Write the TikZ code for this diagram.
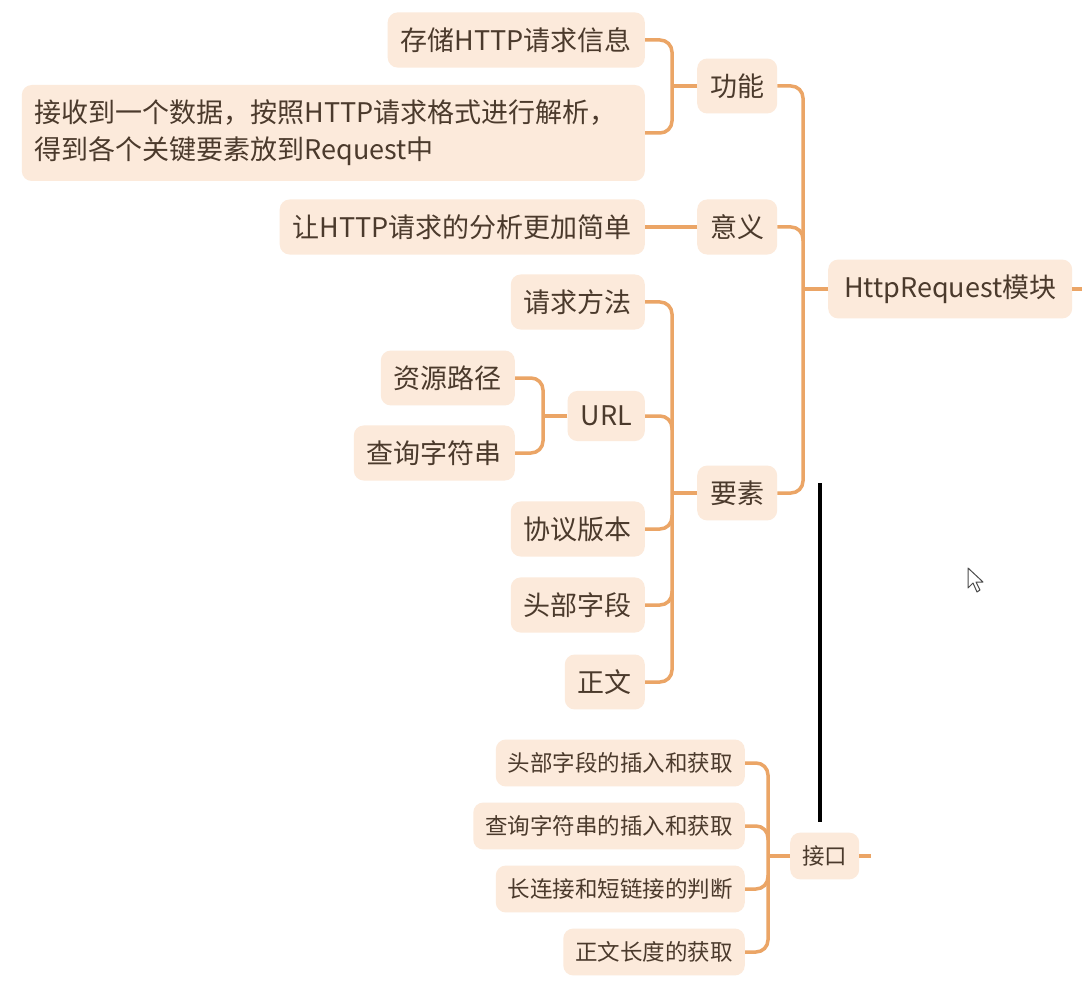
\documentclass[tikz,border=0pt]{standalone}
\usepackage{fontspec}
\setmainfont{Noto Sans CJK SC}
\usetikzlibrary{calc}

\definecolor{boxfill}{HTML}{FCEADB}
\definecolor{branch}{HTML}{EBA566}
\definecolor{ink}{HTML}{4B3A2C}

\begin{document}
\begin{tikzpicture}[x=1pt, y=-1pt,
    topic/.style={fill=boxfill, rounded corners=10pt, text=ink, inner xsep=13pt,
        inner ysep=15pt, font=\fontsize{27}{37}\selectfont},
    subtopic/.style={topic, inner ysep=13pt, inner xsep=12pt, font=\fontsize{22.5}{30}\selectfont},
    conn/.style={branch, line width=3.5pt, rounded corners=12pt}]

    % 1. Khung hình
    \useasboundingbox[fill=white] (0,0) rectangle (1082,1000);

    % trục dọc của từng nhánh
    \coordinate (sTop)  at (803,0);
    \coordinate (sFun)  at (672,0);
    \coordinate (sEle)  at (672,0);
    \coordinate (sUrl)  at (543,0);
    \coordinate (sApi)  at (768,0);

    % 2. Các nút chính
    \node[topic, anchor=west, minimum width=244pt] (root) at (828,289) {HttpRequest模块};
    \node[topic, anchor=west] (func) at (697,86)  {功能};
    \node[topic, anchor=west] (mean) at (697,227) {意义};
    \node[topic, anchor=west] (elem) at (697,493) {要素};

    % 3. Nhánh 功能 và 意义
    \node[topic, anchor=east] (store)  at (645,40)  {存储HTTP请求信息};
    \node[topic, anchor=east, align=left, text width=597pt] (parse) at (645,133)
        {接收到一个数据，按照HTTP请求格式进行解析，\\得到各个关键要素放到Request中};
    \node[topic, anchor=east] (simple) at (645,227) {让HTTP请求的分析更加简单};

    % 4. Nhánh 要素
    \node[topic, anchor=east] (method)  at (645,302) {请求方法};
    \node[topic, anchor=east] (url)     at (645,416) {URL};
    \node[topic, anchor=east] (path)    at (515,378) {资源路径};
    \node[topic, anchor=east] (query)   at (515,453) {查询字符串};
    \node[topic, anchor=east] (version) at (645,529) {协议版本};
    \node[topic, anchor=east] (header)  at (645,605) {头部字段};
    \node[topic, anchor=east] (body)    at (645,682) {正文};

    % 5. Nhánh 接口
    \node[subtopic, anchor=west] (api) at (790,856) {接口};
    \node[subtopic, anchor=east] (apiHead)  at (745,763) {头部字段的插入和获取};
    \node[subtopic, anchor=east] (apiQuery) at (745,826) {查询字符串的插入和获取};
    \node[subtopic, anchor=east] (apiConn)  at (745,889) {长连接和短链接的判断};
    \node[subtopic, anchor=east] (apiLen)   at (745,952) {正文长度的获取};

    % 6. Đường nối
    \draw[conn] (func.east) -| (elem.east -| sTop) -- (elem.east);
    \draw[conn] (mean.east) -- (mean.east -| sTop) -- ++(0,14);
    \draw[conn] (root.west) -- (root.west -| sTop);

    \draw[conn] (store.east) -| (parse.east -| sFun) -- (parse.east);
    \draw[conn] (func.west) -- (func.west -| sFun);
    \draw[conn] (mean.west) -- (simple.east);

    \draw[conn] (method.east) -| (body.east -| sEle) -- (body.east);
    \draw[conn] (url.east) -- (url.east -| sEle) -- ++(0,14);
    \draw[conn] (version.east) -- (version.east -| sEle) -- ++(0,-14);
    \draw[conn] (header.east) -- (header.east -| sEle) -- ++(0,-14);
    \draw[conn] (elem.west) -- (elem.west -| sEle);

    \draw[conn] (path.east) -| (query.east -| sUrl) -- (query.east);
    \draw[conn] (url.west) -- (url.west -| sUrl);

    \draw[conn] (apiHead.east) -| (apiLen.east -| sApi) -- (apiLen.east);
    \draw[conn] (apiQuery.east) -- (apiQuery.east -| sApi) -- ++(0,14);
    \draw[conn] (apiConn.east) -- (apiConn.east -| sApi) -- ++(0,-14);
    \draw[conn] (api.west) -- (api.west -| sApi);
    \draw[conn] (root.east) -- ++(12,0);
    \draw[conn] (api.east) -- ++(12,0);

    % 7. Vạch đen và con trỏ chuột
    \draw[line width=4pt, black] (820,483) -- (820,822);
    \draw[fill=white, draw=black!70, line width=1pt, line join=round]
        (968,568) -- (968,588) -- (973,583) -- (977,592) -- (980,590)
        -- (976,582) -- (983,582) -- cycle;

\end{tikzpicture}
\end{document}
